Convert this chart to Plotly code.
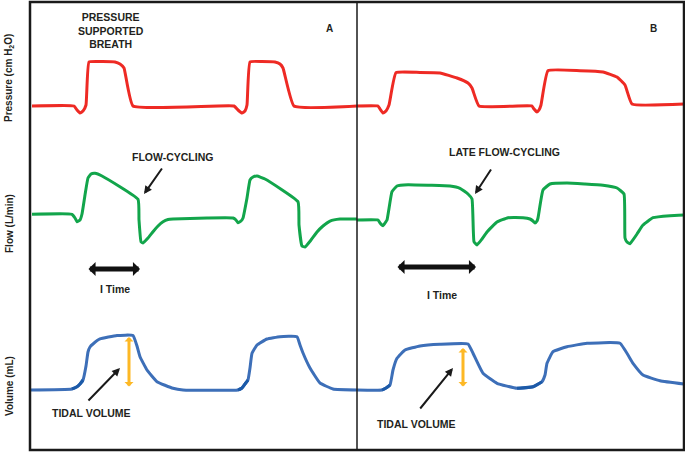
import plotly.graph_objects as go

# ---------------- data (time in arbitrary units, values in arbitrary units above baseline) ----
pressure_a_t = [2, 44, 47, 50, 53, 56, 59, 70, 85, 90, 94, 103, 204, 208, 212, 215, 217, 220, 232, 245, 250, 253, 264, 327]
pressure_a = [0, 0, -4, -7, -5, 1, 44, 44.5, 44, 42, 38, 0, 0, -4, -7, -5, 1, 44, 44.5, 44, 42, 38, 0, 0]

pressure_b_t = [327, 348, 350, 353, 356, 359, 366, 390, 410, 427, 438, 442, 449, 502, 504, 507, 509, 511, 518, 550, 573, 587, 595, 602, 654]
pressure_b = [0, 0, -3, -7, -5, 1, 33.3, 33.5, 33, 28, 23, 18, 0, 0, -3, -6, -4, 1, 35.3, 35.3, 34, 29, 21, 2, 2]

flow_a_t = [2, 42, 45, 47, 50, 52, 55, 58, 61, 65, 72, 108, 109, 111, 113, 118, 123, 128, 133, 138, 143, 160, 177, 203,
            206, 208, 211, 213, 217, 220, 223, 227, 235, 268, 269, 272, 275, 281, 287, 293, 300, 310, 327]
flow_a = [5.7, 5.7, 2, -1.7, 0, 6, 25, 42, 46, 46.7, 44, 20.7, 0, -21.7, -23, -18, -11.7, -6, -1.7, 0.5, 1, 1.5, 2, 2,
          0, -2.7, -1, 2, 22, 40, 43, 44, 41, 18.3, -5, -26, -27, -20, -12, -6, -1, 1, 1]

flow_b_t = [327, 348, 350, 353, 355, 357, 362, 367, 378, 400, 420, 430, 438, 442, 444, 447, 452, 457, 467, 478, 493,
            500, 503, 505, 507, 508, 513, 520, 537, 555, 573, 587, 594, 595, 597, 600, 607, 613, 623, 640, 654]
flow_b = [0, 0, -3, -5.7, -3, 0, 28.3, 34, 35.3, 34.7, 34, 31.7, 26, 21, -21.7, -25, -19, -12, -2, 2.3, 2.3,
          1, -1, -3, -1, 2, 30, 36, 37, 36, 34.7, 32, 26, -18, -22, -23.7, -14, -5, 2.3, 4.3, 5]

volume_a_t = [0, 42, 47, 50, 53, 56, 58, 60, 63, 70, 87, 103, 107, 110, 117, 127, 143, 153, 208, 212, 215, 218, 220,
              222, 227, 237, 250, 267, 270, 273, 280, 290, 303, 327]
volume_a = [0, 1, 3.3, 6, 10, 24, 38, 43, 46, 51, 54.5, 54.5, 44, 33.3, 20, 8.3, 1.7, 0, 0, 2, 6, 10, 22,
            36.7, 45, 51, 53.3, 53.3, 45, 37, 22, 7, 1, 0]

volume_b_t = [327, 352, 356, 360, 363, 367, 375, 390, 410, 438, 443, 453, 467, 487, 503, 512, 515, 517, 523, 537, 557,
              590, 603, 613, 630, 654]
volume_b = [0, 0, 2, 5, 20, 31.7, 40, 44, 45.7, 46, 36.7, 16.7, 6.7, 1.7, 3.3, 8.3, 15, 26.7, 38.3, 43.3, 46.7,
            46.7, 26.7, 15, 9.3, 6]

row_labels = ["Pressure (cm H<sub>2</sub>O)", "Flow (L/min)", "Volume (mL)"]
panel_labels = ["A", "B"]

RED = "#ee2a24"
GREEN = "#12a54b"
BLUE = "#3d6fb8"
DARK_BLUE = "#1c5aa8"
ORANGE = "#fdb825"
TXT = "#231f20"
FONT = "Liberation Sans, Arial, sans-serif"

W, H = 685, 452
ML, MR, MT, MB = 30, 1, 2, 2
PW, PH = W - ML - MR, H - MT - MB


def px(x):
    return (x - ML) / PW


def py(y):
    return (H - MB - y) / PH


fig = go.Figure()


def curve(t, v, color, axis):
    fig.add_trace(go.Scatter(x=t, y=v, mode="lines", yaxis=axis, hoverinfo="skip",
                             line=dict(color=color, width=3, shape="spline", smoothing=0.35)))


curve(pressure_a_t, pressure_a, RED, "y3")
curve(pressure_b_t, pressure_b, RED, "y3")
curve(flow_a_t, flow_a, GREEN, "y2")
curve(flow_b_t, flow_b, GREEN, "y2")
curve(volume_a_t, volume_a, BLUE, "y")
curve(volume_b_t, volume_b, BLUE, "y")
# darker onset segments of the volume curves
curve(volume_a_t[1:5], volume_a[1:5], DARK_BLUE, "y")
curve(volume_a_t[18:22], volume_a[18:22], DARK_BLUE, "y")
curve(volume_b_t[1:4], volume_b[1:4], DARK_BLUE, "y")
curve(volume_b_t[13:16], volume_b[13:16], DARK_BLUE, "y")

ann = []


def text(s, x, y, size=10, angle=0):
    ann.append(dict(text=f"<b>{s}</b>", x=px(x), y=py(y), xref="paper", yref="paper", showarrow=False,
                    xanchor="center", yanchor="middle", textangle=angle,
                    font=dict(family=FONT, size=size, color=TXT)))


text("PRESSURE<br>SUPPORTED<br>BREATH", 111, 30, size=10.5)
text(panel_labels[0], 329, 29)
text(panel_labels[1], 653, 28)
text("FLOW-CYCLING", 172, 157, size=10.5)
text("LATE FLOW-CYCLING", 504, 152, size=10.5)
text("I Time", 115, 289, size=10.5)
text("I Time", 442, 295, size=10.5)
text("TIDAL VOLUME", 91, 413, size=10.5)
text("TIDAL VOLUME", 416, 424, size=10.5)
text(row_labels[0], 9, 78, size=10, angle=-90)
text(row_labels[1], 9, 224, size=10, angle=-90)
text(row_labels[2], 9, 386, size=10, angle=-90)


def arrow(x, y, ax, ay, yref, color, width, head, size, both=False):
    ann.append(dict(x=x, y=y, ax=ax, ay=ay, xref="x", yref=yref, axref="x", ayref=yref, text="",
                    showarrow=True, arrowhead=head, arrowsize=size, arrowwidth=width, arrowcolor=color,
                    arrowside="end+start" if both else "end", startarrowhead=head, startarrowsize=size))


# pointer arrows
arrow(114, 26, 133, 53, "y2", "#1a1a1a", 2, 2, 0.8)
arrow(445, 26, 462, 52, "y2", "#1a1a1a", 2, 2, 0.8)
arrow(90, 22, 57, -12, "y", "#1a1a1a", 2, 2, 0.8)
arrow(423, 22, 389, -20, "y", "#1a1a1a", 2, 2, 0.8)
# I time
arrow(110, -49, 57, -49, "y2", "#111111", 5, 1, 0.47, both=True)
arrow(446, -47, 366, -47, "y2", "#111111", 5, 1, 0.47, both=True)
# tidal volume
arrow(99, 53, 99, 2, "y", ORANGE, 3, 1, 0.5, both=True)
arrow(433, 42, 433, 2, "y", ORANGE, 3, 1, 0.5, both=True)

axis_off = dict(showgrid=False, zeroline=False, showticklabels=False, ticks="", showline=False)
row_h = 1 / 3
fig.update_layout(
    width=W, height=H, margin=dict(l=ML, r=MR, t=MT, b=MB),
    paper_bgcolor="white", plot_bgcolor="white", showlegend=False,
    xaxis=dict(range=[0, PW], **axis_off),
    yaxis=dict(domain=[0, row_h], range=[-60, 89.33], **axis_off),
    yaxis2=dict(domain=[row_h, 2 * row_h], range=[-80.67, 68.67], **axis_off),
    yaxis3=dict(domain=[2 * row_h, 1], range=[-45.33, 104], **axis_off),
    annotations=ann,
    shapes=[
        dict(type="rect", xref="paper", yref="paper", x0=0, x1=1, y0=0, y1=1, line=dict(color="#1a1a1a", width=2.5)),
        dict(type="line", xref="paper", yref="paper", x0=0.5, x1=0.5, y0=0, y1=1, line=dict(color="#1a1a1a", width=1.5)),
    ],
)

fig.write_html("out.html", config={"displayModeBar": False},
               post_script="document.body.style.margin='0';document.body.style.overflow='hidden';")
